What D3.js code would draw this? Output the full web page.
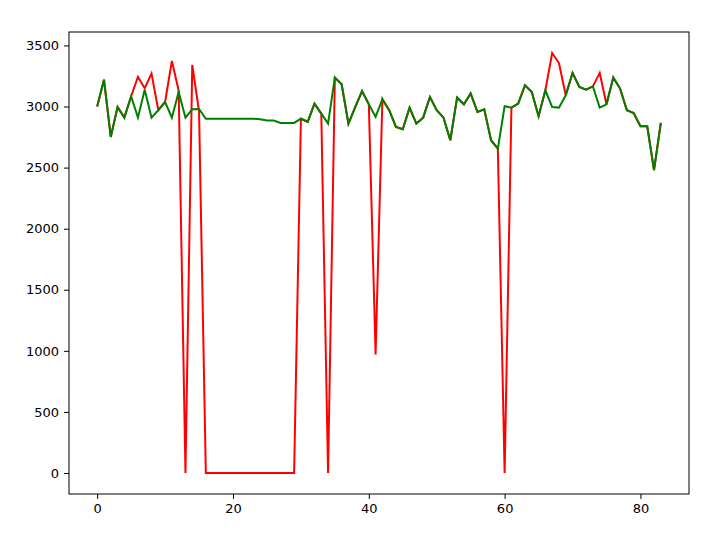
<!DOCTYPE html>
<html><head><meta charset="utf-8">
<script src="https://cdn.jsdelivr.net/npm/d3@7"></script>
<style>body{margin:0;background:#fff}text{font-family:"DejaVu Sans",sans-serif}</style>
</head><body><svg id="c" width="715" height="538"></svg>
<script>
const greenVals = [3000,3220,2751,2996,2909,3084,2909,3138,2909,2970,3037,2909,3119,2909,2977,2980,
2900,2900,2900,2900,2900,2900,2900,2900,2895,2885,2885,2866,2866,2866,2900,2875,3024,2942,2860,3237,3182,2860,2996,3127,
3018,2915,3060,2970,2833,2814,2991,2860,2909,3078,2970,2909,2724,3073,3018,3106,2955,2977,2724,2656,
3002,2991,3024,3174,3119,2920,3133,2996,2991,3092,3275,3160,3138,3165,2991,3018,3237,3147,2970,2947,2838,2838,2479,2866];
const redOverrides = {6:3242,7:3150,8:3270,11:3373,12:3130,13:0,14:3340,15:2960,
16:0,17:0,18:0,19:0,20:0,21:0,22:0,23:0,24:0,25:0,26:0,27:0,28:0,29:0,34:0,41:970,60:0,67:3438,68:3356,74:3275};
const redVals = greenVals.map((v,i)=> i in redOverrides ? redOverrides[i] : v);
const xTicks = [0,20,40,60,80];
const yTicks = [0,500,1000,1500,2000,2500,3000,3500];

const svg = d3.select("#c");
const L=69,R=689,T=32,B=494;
const x = d3.scaleLinear().domain([-4.15,87.15]).range([L,R]);
const y = d3.scaleLinear().domain([-172,3610]).range([B,T]);
const line = d3.line().x((d,i)=>x(i)).y(d=>y(d));
svg.append("path").datum(redVals).attr("d",line).attr("fill","none").attr("stroke","#ff0000").attr("stroke-width",2);
svg.append("path").datum(greenVals).attr("d",line).attr("fill","none").attr("stroke","#008000").attr("stroke-width",2);
const gx = svg.append("g").attr("transform",`translate(0,${B})`).call(d3.axisBottom(x).tickValues(xTicks).tickFormat(d3.format("d")).tickSize(5).tickPadding(5));
const gy = svg.append("g").attr("transform",`translate(${L},0)`).call(d3.axisLeft(y).tickValues(yTicks).tickFormat(d3.format("d")).tickSize(5).tickPadding(5));
[gx,gy].forEach(g=>{g.select(".domain").remove();g.selectAll("text").attr("font-size",13).attr("fill","#000").attr("font-family","DejaVu Sans");g.selectAll("line").attr("stroke","#000");});
svg.append("rect").attr("x",L).attr("y",T).attr("width",R-L).attr("height",B-T).attr("fill","none").attr("stroke","#000").attr("stroke-width",1);
</script></body></html>
